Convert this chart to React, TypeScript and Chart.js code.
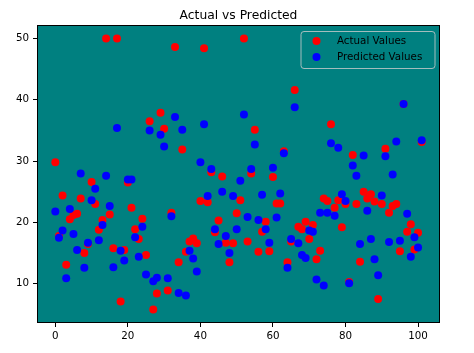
import React, { useEffect, useRef } from "react";
import { Chart, registerables } from "chart.js";

Chart.register(...registerables);

const TITLE = "Actual vs Predicted";
const SERIES_LABELS = ["Actual Values", "Predicted Values"];
const SERIES_COLORS = ["#ff0000", "#0000ff"];

const actualValues = [
  29.8, 17.8, 24.4, 13.1, 20.5, 21.2, 21.4, 23.9, 15.0, 16.5,
  26.6, 23.0, 18.8, 20.4, 50.0, 21.3, 15.8, 50.0, 7.1, 15.5,
  26.5, 22.4, 18.9, 17.3, 20.6, 14.7, 36.5, 5.8, 8.4, 37.9,
  35.3, 8.9, 21.6, 48.6, 13.5, 31.9, 15.2, 16.9, 17.4, 16.6,
  23.5, 48.4, 23.3, 28.2, 18.4, 20.3, 27.5, 16.7, 13.5, 16.6,
  21.5, 23.6, 50.0, 16.9, 28.0, 35.1, 15.2, 18.5, 20.1, 15.3,
  27.4, 23.1, 23.1, 31.6, 13.5, 16.9, 41.6, 19.3, 18.9, 20.1,
  17.3, 19.6, 14.0, 15.4, 23.9, 23.5, 36.0, 22.4, 23.6, 19.2,
  23.0, 10.3, 31.0, 23.0, 13.6, 25.0, 23.9, 24.6, 23.4, 7.5,
  23.0, 32.0, 21.6, 22.7, 23.0, 15.3, 39.3, 18.5, 19.7, 15.6,
  18.3, 33.1,
];

const predictedValues = [
  21.8, 17.5, 18.7, 10.9, 22.2, 18.1, 15.5, 28.0, 12.6, 16.7,
  23.6, 25.5, 17.1, 19.6, 27.6, 22.7, 12.7, 35.4, 15.4, 13.8,
  27.0, 27.0, 17.6, 14.4, 19.3, 11.5, 35.0, 10.4, 11.0, 34.3,
  32.4, 10.9, 21.0, 37.2, 8.5, 35.1, 8.1, 15.4, 14.1, 12.0,
  29.8, 36.0, 24.3, 28.7, 18.9, 16.5, 25.0, 17.8, 15.0, 24.3,
  18.9, 26.8, 37.6, 20.9, 28.7, 32.7, 20.4, 24.5, 18.9, 16.7,
  28.9, 20.8, 24.7, 31.3, 12.6, 17.3, 38.8, 16.6, 14.7, 14.2,
  18.7, 18.5, 10.7, 21.6, 9.7, 21.6, 32.9, 21.1, 32.2, 24.6,
  23.5, 10.1, 29.3, 27.6, 16.5, 30.9, 21.9, 17.3, 14.0, 11.4,
  24.4, 30.8, 16.8, 27.8, 33.2, 17.0, 39.3, 21.4, 14.4, 17.6,
  15.9, 33.4,
];

const xTicks = [0, 20, 40, 60, 80, 100];
const yTicks = [10, 20, 30, 40, 50];

const FONT = "'DejaVu Sans', 'Liberation Sans', sans-serif";
const AXES_BG = "#008080";

const mplPlugin = {
  id: "mplLook",
  beforeDraw(chart: any) {
    const { ctx, chartArea: a } = chart;
    ctx.save();
    ctx.fillStyle = "#ffffff";
    ctx.fillRect(0, 0, chart.width, chart.height);
    ctx.fillStyle = AXES_BG;
    ctx.fillRect(a.left, a.top, a.right - a.left, a.bottom - a.top);
    // title centred over the axes
    ctx.fillStyle = "#000000";
    ctx.font = `12.3px ${FONT}`;
    ctx.textAlign = "center";
    ctx.textBaseline = "alphabetic";
    ctx.fillText(TITLE, (a.left + a.right) / 2, a.top - 6);
    ctx.restore();
  },
  afterDatasetsDraw(chart: any) {
    const { ctx, chartArea: a } = chart;
    ctx.save();
    // frame (spines)
    ctx.strokeStyle = "#000000";
    ctx.lineWidth = 1;
    ctx.strokeRect(a.left + 0.5, a.top + 0.5, a.right - a.left - 1, a.bottom - a.top - 1);

    // legend box (upper right, inside axes)
    const boxW = 134;
    const boxH = 37;
    const bx = a.right - 5.5 - boxW;
    const by = a.top + 6;
    ctx.beginPath();
    if ((ctx as any).roundRect) {
      (ctx as any).roundRect(bx + 0.5, by + 0.5, boxW, boxH, 3);
    } else {
      ctx.rect(bx + 0.5, by + 0.5, boxW, boxH);
    }
    ctx.fillStyle = "rgba(0,128,128,0.8)";
    ctx.fill();
    ctx.strokeStyle = "rgba(204,204,204,0.8)";
    ctx.lineWidth = 1;
    ctx.stroke();

    const ds = chart.data.datasets;
    const labelOrder = [0, 1];
    labelOrder.forEach((di, row) => {
      const d = ds[di];
      const cy = by + 10 + row * 16;
      ctx.beginPath();
      ctx.arc(bx + 16, cy, 4, 0, Math.PI * 2);
      ctx.fillStyle = d.backgroundColor;
      ctx.fill();
      ctx.fillStyle = "#000000";
      ctx.font = `10.3px ${FONT}`;
      ctx.textAlign = "left";
      ctx.textBaseline = "middle";
      ctx.fillText(d.label, bx + 36.5, cy);
    });
    ctx.restore();
  },
};

export default function App() {
  const canvasRef = useRef<HTMLCanvasElement | null>(null);

  useEffect(() => {
    if (!canvasRef.current) return;
    const actualPts = actualValues.map((v, i) => ({ x: i, y: v }));
    const predictedPts = predictedValues.map((v, i) => ({ x: i, y: v }));

    const chart = new Chart(canvasRef.current, {
      type: "scatter",
      data: {
        datasets: [
          {
            label: SERIES_LABELS[0],
            data: actualPts,
            backgroundColor: SERIES_COLORS[0],
            borderWidth: 0,
            pointRadius: 4,
            pointHoverRadius: 4,
            order: 2,
          },
          {
            label: SERIES_LABELS[1],
            data: predictedPts,
            backgroundColor: SERIES_COLORS[1],
            borderWidth: 0,
            pointRadius: 4,
            pointHoverRadius: 4,
            order: 1,
          },
        ],
      },
      options: {
        animation: false,
        responsive: true,
        maintainAspectRatio: false,
        layout: { padding: { left: 0, right: 34, top: 25, bottom: 0 } },
        plugins: {
          legend: { display: false },
          tooltip: { enabled: false },
          title: { display: false },
        },
        scales: {
          x: {
            type: "linear",
            min: -5.05,
            max: 106.05,
            afterFit: (s: any) => {
              s.height = 30;
            },
            afterBuildTicks: (s: any) => {
              s.ticks = xTicks.map((v) => ({ value: v }));
            },
            grid: {
              drawOnChartArea: false,
              drawTicks: true,
              tickLength: 4,
              tickColor: "#000000",
            },
            border: { display: false },
            ticks: {
              color: "#000000",
              padding: 3,
              maxRotation: 0,
              font: { family: FONT, size: 10.3 },
            },
          },
          y: {
            type: "linear",
            min: 3.6,
            max: 52.2,
            afterFit: (s: any) => {
              s.width = 37;
            },
            afterBuildTicks: (s: any) => {
              s.ticks = yTicks.map((v) => ({ value: v }));
            },
            grid: {
              drawOnChartArea: false,
              drawTicks: true,
              tickLength: 4,
              tickColor: "#000000",
            },
            border: { display: false },
            ticks: {
              color: "#000000",
              padding: 4,
              font: { family: FONT, size: 10.3 },
            },
          },
        },
      },
      plugins: [mplPlugin],
    });
    return () => chart.destroy();
  }, []);

  return (
    <div style={{ position: "absolute", left: 0, top: 0, width: 474, height: 353 }}>
      <canvas ref={canvasRef} />
    </div>
  );
}
